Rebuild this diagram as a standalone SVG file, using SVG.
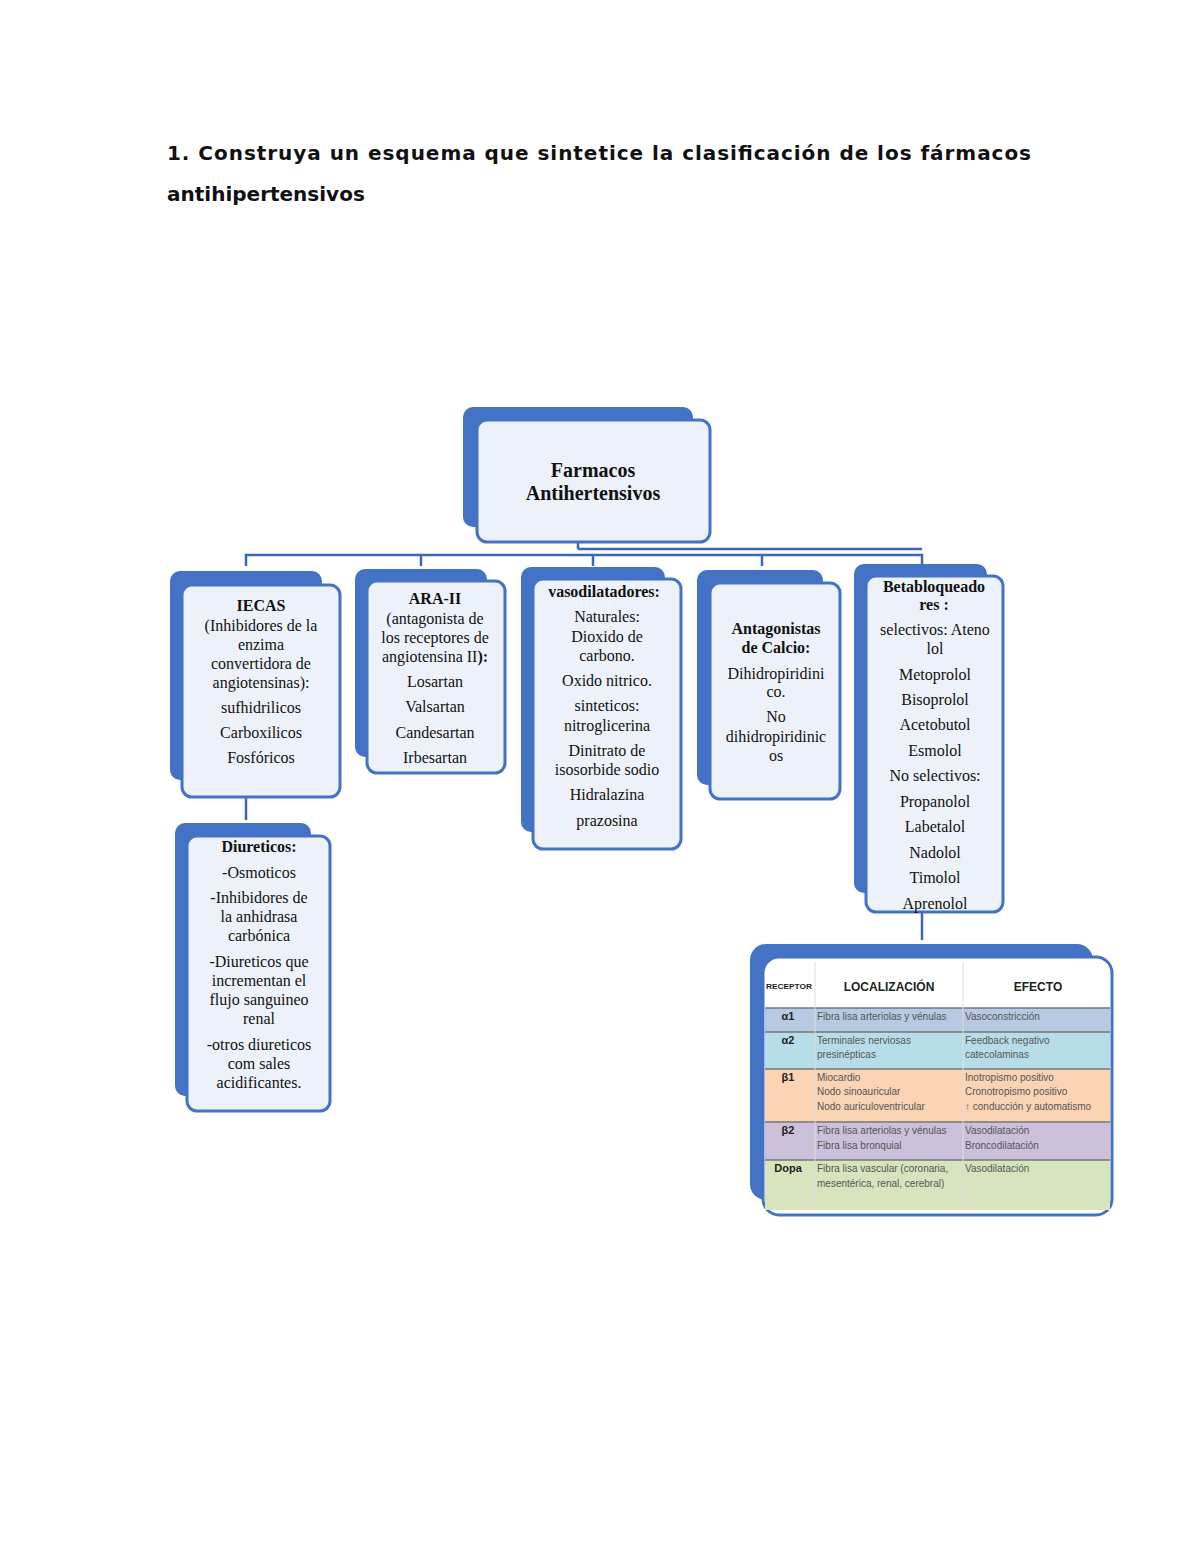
<svg xmlns="http://www.w3.org/2000/svg" width="1200" height="1553" viewBox="0 0 1200 1553">
<style>
.bk{fill:#4472c4}
.fr{fill:#edf2fa;stroke:#4472c4;stroke-width:3}
.t{font-family:"Liberation Serif",serif;font-size:16px;fill:#111;text-anchor:middle}
.b{font-weight:bold}
.big{font-size:20px}
.c{stroke:#3f66b0;stroke-width:2.5;fill:none}
.tt{font-family:"Liberation Sans",sans-serif;font-size:10px;fill:#555}
.th{font-family:"Liberation Sans",sans-serif;font-size:12px;font-weight:bold;fill:#222;text-anchor:middle}
.rl{font-family:"Liberation Sans",sans-serif;font-size:11px;font-weight:bold;fill:#222;text-anchor:middle}
</style>
<rect width="1200" height="1553" fill="#fff"/>
<text x="167" y="160" font-family="DejaVu Sans,sans-serif" font-size="20" font-weight="bold" fill="#111" textLength="864" lengthAdjust="spacing">1. Construya un esquema que sintetice la clasificación de los fármacos</text>
<text x="167" y="201" font-family="DejaVu Sans,sans-serif" font-size="20" font-weight="bold" fill="#111">antihipertensivos</text>
<g id="connectors">
<path class="c" d="M578 542V549M246 566V555H922V566M421 555V566M593 555V566M762 555V566M578 549H922"/>
<path class="c" d="M246 797V820M922 912V940"/>
</g>
<g id="root">
<rect class="bk" x="463" y="407" width="230" height="120" rx="10"/>
<rect class="fr" x="477" y="420" width="233" height="122" rx="10"/>
<text class="t b big" x="593" y="477">Farmacos</text>
<text class="t b big" x="593" y="500">Antihertensivos</text>
</g>
<g id="iecas">
<rect class="bk" x="170" y="571" width="152" height="209" rx="10"/>
<rect class="fr" x="182" y="585" width="158" height="212" rx="10"/>
<text class="t b" x="261" y="611">IECAS</text>
<text class="t" x="261" y="631">(Inhibidores de la</text>
<text class="t" x="261" y="650">enzima</text>
<text class="t" x="261" y="669">convertidora de</text>
<text class="t" x="261" y="688">angiotensinas):</text>
<text class="t" x="261" y="713">sufhidrilicos</text>
<text class="t" x="261" y="738">Carboxilicos</text>
<text class="t" x="261" y="763">Fosfóricos</text>
</g>
<g id="ara">
<rect class="bk" x="355" y="569" width="132" height="188" rx="10"/>
<rect class="fr" x="367" y="581" width="138" height="192" rx="10"/>
<text class="t b" x="435" y="604">ARA-II</text>
<text class="t" x="435" y="624">(antagonista de</text>
<text class="t" x="435" y="643">los receptores de</text>
<text class="t" x="435" y="662">angiotensina II<tspan font-weight="bold">):</tspan></text>
<text class="t" x="435" y="687">Losartan</text>
<text class="t" x="435" y="712">Valsartan</text>
<text class="t" x="435" y="738">Candesartan</text>
<text class="t" x="435" y="763">Irbesartan</text>
</g>
<g id="vaso">
<rect class="bk" x="521" y="567" width="144" height="265" rx="10"/>
<rect class="fr" x="533" y="579" width="148" height="270" rx="10"/>
<text class="t b" x="604" y="597">vasodilatadores:</text>
<text class="t" x="607" y="622">Naturales:</text>
<text class="t" x="607" y="642">Dioxido de</text>
<text class="t" x="607" y="661">carbono.</text>
<text class="t" x="607" y="686">Oxido nitrico.</text>
<text class="t" x="607" y="711">sinteticos:</text>
<text class="t" x="607" y="731">nitroglicerina</text>
<text class="t" x="607" y="756">Dinitrato de</text>
<text class="t" x="607" y="775">isosorbide sodio</text>
<text class="t" x="607" y="800">Hidralazina</text>
<text class="t" x="607" y="826">prazosina</text>
</g>
<g id="antag">
<rect class="bk" x="697" y="570" width="126" height="215" rx="10"/>
<rect class="fr" x="710" y="583" width="130" height="216" rx="10"/>
<text class="t b" x="776" y="634">Antagonistas</text>
<text class="t b" x="776" y="653">de Calcio:</text>
<text class="t" x="776" y="679">Dihidropiridini</text>
<text class="t" x="776" y="697">co.</text>
<text class="t" x="776" y="722">No</text>
<text class="t" x="776" y="742">dihidropiridinic</text>
<text class="t" x="776" y="761">os</text>
</g>
<g id="beta">
<rect class="bk" x="854" y="564" width="133" height="329" rx="10"/>
<rect class="fr" x="866" y="576" width="137" height="336" rx="10"/>
<text class="t b" x="934" y="592">Betabloqueado</text>
<text class="t b" x="934" y="610">res :</text>
<text class="t" x="935" y="635">selectivos: Ateno</text>
<text class="t" x="935" y="654">lol</text>
<text class="t" x="935" y="680">Metoprolol</text>
<text class="t" x="935" y="705">Bisoprolol</text>
<text class="t" x="935" y="730">Acetobutol</text>
<text class="t" x="935" y="756">Esmolol</text>
<text class="t" x="935" y="781">No selectivos:</text>
<text class="t" x="935" y="807">Propanolol</text>
<text class="t" x="935" y="832">Labetalol</text>
<text class="t" x="935" y="858">Nadolol</text>
<text class="t" x="935" y="883">Timolol</text>
<text class="t" x="935" y="909">Aprenolol</text>
</g>
<g id="diureticos">
<rect class="bk" x="175" y="823" width="136" height="273" rx="10"/>
<rect class="fr" x="187" y="836" width="143" height="275" rx="10"/>
<text class="t b" x="259" y="852">Diureticos:</text>
<text class="t" x="259" y="878">-Osmoticos</text>
<text class="t" x="259" y="903">-Inhibidores de</text>
<text class="t" x="259" y="922">la anhidrasa</text>
<text class="t" x="259" y="941">carbónica</text>
<text class="t" x="259" y="967">-Diureticos que</text>
<text class="t" x="259" y="986">incrementan el</text>
<text class="t" x="259" y="1005">flujo sanguineo</text>
<text class="t" x="259" y="1024">renal</text>
<text class="t" x="259" y="1050">-otros diureticos</text>
<text class="t" x="259" y="1069">com sales</text>
<text class="t" x="259" y="1088">acidificantes.</text>
</g>
<g id="tabla">
<rect class="bk" x="750" y="944" width="343" height="256" rx="16"/>
<rect x="763" y="957" width="349" height="258" rx="16" fill="#fff" stroke="#4472c4" stroke-width="3"/>
<rect x="765" y="1008" width="345" height="24" fill="#b8c9e3"/>
<rect x="765" y="1032" width="345" height="37" fill="#b7dde8"/>
<rect x="765" y="1069" width="345" height="53" fill="#fbd4b4"/>
<rect x="765" y="1122" width="345" height="38" fill="#ccc0da"/>
<rect x="765" y="1160" width="345" height="50" fill="#d7e4bd"/>
<path d="M765 1008H1110M765 1032H1110M765 1069H1110M765 1122H1110M765 1160H1110" stroke="#777" stroke-width="1.5"/>
<path d="M815 962V1210M963 962V1210" stroke="#ddd" stroke-width="1"/>
<text class="th" x="789" y="989" style="font-size:8px" textLength="46" lengthAdjust="spacingAndGlyphs">RECEPTOR</text>
<text class="th" x="889" y="991">LOCALIZACIÓN</text>
<text class="th" x="1038" y="991">EFECTO</text>
<text class="rl" x="788" y="1020">α1</text>
<text class="rl" x="788" y="1044">α2</text>
<text class="rl" x="788" y="1081">β1</text>
<text class="rl" x="788" y="1134">β2</text>
<text class="rl" x="788" y="1172">Dopa</text>
<text class="tt" x="817" y="1020">Fibra lisa arteriolas y vénulas</text>
<text class="tt" x="965" y="1020">Vasoconstricción</text>
<text class="tt" x="817" y="1044">Terminales nerviosas</text>
<text class="tt" x="817" y="1058">presinépticas</text>
<text class="tt" x="965" y="1044">Feedback negativo</text>
<text class="tt" x="965" y="1058">catecolaminas</text>
<text class="tt" x="817" y="1081">Miocardio</text>
<text class="tt" x="817" y="1095">Nodo sinoauricular</text>
<text class="tt" x="817" y="1110">Nodo auriculoventricular</text>
<text class="tt" x="965" y="1081">Inotropismo positivo</text>
<text class="tt" x="965" y="1095">Cronotropismo positivo</text>
<text class="tt" x="965" y="1110">↑ conducción y automatismo</text>
<text class="tt" x="817" y="1134">Fibra lisa arteriolas y vénulas</text>
<text class="tt" x="817" y="1149">Fibra lisa bronquial</text>
<text class="tt" x="965" y="1134">Vasodilatación</text>
<text class="tt" x="965" y="1149">Broncodilatación</text>
<text class="tt" x="817" y="1172">Fibra lisa vascular (coronaria,</text>
<text class="tt" x="817" y="1187">mesentérica, renal, cerebral)</text>
<text class="tt" x="965" y="1172">Vasodilatación</text>
</g>
</svg>
